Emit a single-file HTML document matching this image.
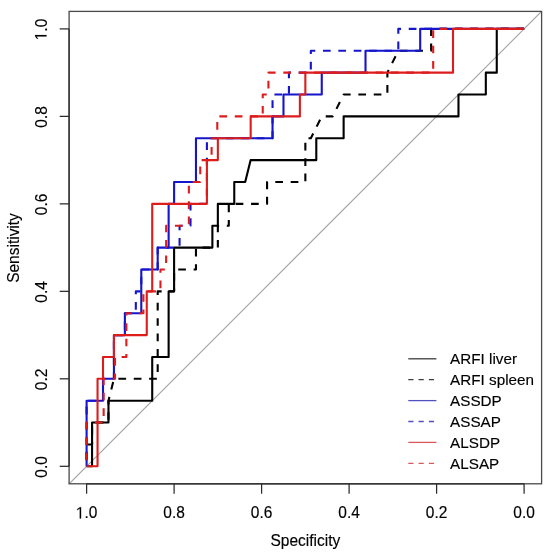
<!DOCTYPE html><html><head><meta charset="utf-8"><style>html,body{margin:0;padding:0;background:#fff;}svg{display:block;}text{font-family:"Liberation Sans",sans-serif;fill:#000;stroke:#000;stroke-width:0.15px;}</style></head><body>
<svg style="will-change:transform" width="550" height="558" viewBox="0 0 550 558">
<rect x="0" y="0" width="550" height="558" fill="#fff"/>
<line x1="69.10" y1="483.80" x2="541.60" y2="11.40" stroke="#a0a0a0" stroke-width="1.15"/>
<path d="M524.10,28.90 L496.76,28.90 L496.76,72.64 L485.82,72.64 L485.82,94.51 L458.48,94.51 L458.48,116.38 L343.63,116.38 L343.63,138.25 L316.29,138.25 L316.29,160.12 L250.66,160.12 L245.19,181.99 L234.26,181.99 L234.26,203.86 L217.85,203.86 L217.85,225.73 L212.38,225.73 L212.38,247.60 L174.10,247.60 L174.10,291.34 L168.63,291.34 L168.63,356.95 L152.22,356.95 L152.22,400.69 L108.47,400.69 L108.47,422.56 L92.07,422.56 L92.07,466.30 L86.60,466.30" fill="none" stroke="#000000" stroke-width="2.1" stroke-linejoin="round" stroke-linecap="butt"/>
<path d="M524.10,28.90 L431.13,28.90 L431.13,50.77 L398.32,50.77 L387.38,72.64 L387.38,94.51 L343.63,94.51 L332.69,116.38 L321.76,116.38 L310.82,138.25 L305.35,138.25 L305.35,181.99 L267.07,181.99 L267.07,203.86 L228.79,203.86 L228.79,225.73 L217.85,225.73 L217.85,247.60 L195.97,247.60 L195.97,269.47 L174.10,269.47 L174.10,291.34 L157.69,291.34 L157.69,378.82 L113.94,378.82 L108.47,400.69 L108.47,422.56 L92.07,422.56 L92.07,444.43 L86.60,444.43 L86.60,466.30" fill="none" stroke="#000000" stroke-width="2.1" stroke-linejoin="round" stroke-linecap="butt" stroke-dasharray="7.69 7.69"/>
<path d="M524.10,28.90 L420.19,28.90 L420.19,50.77 L365.51,50.77 L365.51,72.64 L321.76,72.64 L321.76,94.51 L283.48,94.51 L283.48,116.38 L272.54,116.38 L272.54,138.25 L195.97,138.25 L195.97,181.99 L174.10,181.99 L174.10,203.86 L168.63,203.86 L168.63,247.60 L157.69,247.60 L157.69,269.47 L141.29,269.47 L141.29,313.21 L124.88,313.21 L124.88,335.08 L113.94,335.08 L113.94,378.82 L103.01,378.82 L103.01,400.69 L86.60,400.69 L86.60,466.30" fill="none" stroke="#1515cc" stroke-width="2.1" stroke-linejoin="round" stroke-linecap="butt"/>
<path d="M524.10,28.90 L398.32,28.90 L398.32,50.77 L310.82,50.77 L310.82,72.64 L288.94,72.64 L288.94,94.51 L272.54,94.51 L272.54,138.25 L206.91,138.25 L206.91,203.86 L190.51,203.86 L190.51,225.73 L179.57,225.73 L179.57,247.60 L157.69,247.60 L157.69,269.47 L141.29,269.47 L141.29,291.34 L135.82,291.34 L135.82,313.21 L124.88,313.21 L124.88,335.08 L113.94,335.08 L113.94,378.82 L103.01,378.82 L103.01,400.69 L86.60,400.69 L86.60,466.30" fill="none" stroke="#1515cc" stroke-width="2.1" stroke-linejoin="round" stroke-linecap="butt" stroke-dasharray="7.69 7.69"/>
<path d="M524.10,28.90 L453.01,28.90 L453.01,72.64 L305.35,72.64 L305.35,94.51 L299.88,94.51 L299.88,116.38 L250.66,116.38 L250.66,138.25 L217.85,138.25 L217.85,160.12 L206.91,160.12 L206.91,203.86 L152.22,203.86 L152.22,291.34 L146.76,291.34 L146.76,335.08 L113.94,335.08 L113.94,356.95 L103.01,356.95 L103.01,378.82 L97.54,378.82 L97.54,466.30 L86.60,466.30" fill="none" stroke="#dd1c1c" stroke-width="2.1" stroke-linejoin="round" stroke-linecap="butt"/>
<path d="M524.10,28.90 L433.19,28.90 L433.19,72.64 L268.42,72.64 L268.42,94.51 L262.74,94.51 L262.74,116.38 L217.28,116.38 L217.28,138.25 L211.60,138.25 L211.60,160.12 L200.24,160.12 L200.24,181.99 L188.87,181.99 L188.87,225.73 L166.15,225.73 L166.15,269.47 L160.46,269.47 L160.46,291.34 L143.42,291.34 L143.42,313.21 L126.37,313.21 L126.37,356.95 L115.01,356.95 L115.01,378.82 L103.65,378.82 L103.65,422.56 L86.60,422.56 L86.60,466.30" fill="none" stroke="#dd1c1c" stroke-width="2.1" stroke-linejoin="round" stroke-linecap="butt" stroke-dasharray="7.69 7.69"/>
<rect x="69.10" y="11.40" width="472.50" height="472.39" fill="none" stroke="#4a4a4a" stroke-width="1.3"/>
<line x1="69.10" y1="466.30" x2="69.10" y2="28.90" stroke="#2a2a2a" stroke-width="1.25"/>
<line x1="86.60" y1="483.80" x2="524.10" y2="483.80" stroke="#2a2a2a" stroke-width="1.25"/>
<line x1="59.70" y1="466.30" x2="69.10" y2="466.30" stroke="#2a2a2a" stroke-width="1.25"/>
<line x1="86.60" y1="483.80" x2="86.60" y2="493.70" stroke="#2a2a2a" stroke-width="1.25"/>
<line x1="59.70" y1="378.82" x2="69.10" y2="378.82" stroke="#2a2a2a" stroke-width="1.25"/>
<line x1="174.10" y1="483.80" x2="174.10" y2="493.70" stroke="#2a2a2a" stroke-width="1.25"/>
<line x1="59.70" y1="291.34" x2="69.10" y2="291.34" stroke="#2a2a2a" stroke-width="1.25"/>
<line x1="261.60" y1="483.80" x2="261.60" y2="493.70" stroke="#2a2a2a" stroke-width="1.25"/>
<line x1="59.70" y1="203.86" x2="69.10" y2="203.86" stroke="#2a2a2a" stroke-width="1.25"/>
<line x1="349.10" y1="483.80" x2="349.10" y2="493.70" stroke="#2a2a2a" stroke-width="1.25"/>
<line x1="59.70" y1="116.38" x2="69.10" y2="116.38" stroke="#2a2a2a" stroke-width="1.25"/>
<line x1="436.60" y1="483.80" x2="436.60" y2="493.70" stroke="#2a2a2a" stroke-width="1.25"/>
<line x1="59.70" y1="28.90" x2="69.10" y2="28.90" stroke="#2a2a2a" stroke-width="1.25"/>
<line x1="524.10" y1="483.80" x2="524.10" y2="493.70" stroke="#2a2a2a" stroke-width="1.25"/>
<text x="0" y="0" font-size="15.5" text-anchor="middle" transform="translate(46.5,466.90) rotate(-90) scale(1,1.03)">0.0</text>
<path d="M515,0 L515,1290 L197,1062 L197,1232 L530,1466 L696,1466 L696,0 Z" fill="#000" stroke="#000" stroke-width="0.15" vector-effect="non-scaling-stroke" transform="translate(86.60,518.45) scale(1,1.02) translate(-10.774,0) scale(0.007568,-0.007568)"/>
<text x="-2.153" y="0" font-size="15.5" transform="translate(86.60,518.45) scale(1,1.02)">.0</text>
<text x="0" y="0" font-size="15.5" text-anchor="middle" transform="translate(46.5,379.42) rotate(-90) scale(1,1.03)">0.2</text>
<text x="0" y="0" font-size="15.5" text-anchor="middle" transform="translate(174.10,518.45) scale(1,1.02)">0.8</text>
<text x="0" y="0" font-size="15.5" text-anchor="middle" transform="translate(46.5,291.94) rotate(-90) scale(1,1.03)">0.4</text>
<text x="0" y="0" font-size="15.5" text-anchor="middle" transform="translate(261.60,518.45) scale(1,1.02)">0.6</text>
<text x="0" y="0" font-size="15.5" text-anchor="middle" transform="translate(46.5,204.46) rotate(-90) scale(1,1.03)">0.6</text>
<text x="0" y="0" font-size="15.5" text-anchor="middle" transform="translate(349.10,518.45) scale(1,1.02)">0.4</text>
<text x="0" y="0" font-size="15.5" text-anchor="middle" transform="translate(46.5,116.98) rotate(-90) scale(1,1.03)">0.8</text>
<text x="0" y="0" font-size="15.5" text-anchor="middle" transform="translate(436.60,518.45) scale(1,1.02)">0.2</text>
<path d="M515,0 L515,1290 L197,1062 L197,1232 L530,1466 L696,1466 L696,0 Z" fill="#000" stroke="#000" stroke-width="0.15" vector-effect="non-scaling-stroke" transform="translate(46.5,29.50) rotate(-90) scale(1,1.03) translate(-10.774,0) scale(0.007568,-0.007568)"/>
<text x="-2.153" y="0" font-size="15.5" transform="translate(46.5,29.50) rotate(-90) scale(1,1.03)">.0</text>
<text x="0" y="0" font-size="15.5" text-anchor="middle" transform="translate(524.10,518.45) scale(1,1.02)">0.0</text>
<text x="0" y="0" font-size="15.5" text-anchor="middle" transform="translate(305.35,545.5) scale(1,1.02)">Specificity</text>
<text x="0" y="0" font-size="15.5" text-anchor="middle" transform="translate(18.9,248.00) rotate(-90) scale(1,1.03)">Sensitivity</text>
<line x1="408.3" y1="358.80" x2="436.4" y2="358.80" stroke="#3c3c3c" stroke-width="1.3"/>
<text x="0" y="0" font-size="15.25" transform="translate(450.1,364.30) scale(1,1.02)">ARFI liver</text>
<line x1="408.3" y1="379.70" x2="436.4" y2="379.70" stroke="#3c3c3c" stroke-width="1.3" stroke-dasharray="5.15 5.15"/>
<text x="0" y="0" font-size="15.25" transform="translate(450.1,385.20) scale(1,1.02)">ARFI spleen</text>
<line x1="408.3" y1="400.60" x2="436.4" y2="400.60" stroke="#5050c4" stroke-width="1.3"/>
<text x="0" y="0" font-size="15.25" transform="translate(450.1,406.10) scale(1,1.02)">ASSDP</text>
<line x1="408.3" y1="421.50" x2="436.4" y2="421.50" stroke="#5050c4" stroke-width="1.3" stroke-dasharray="5.15 5.15"/>
<text x="0" y="0" font-size="15.25" transform="translate(450.1,427.00) scale(1,1.02)">ASSAP</text>
<line x1="408.3" y1="442.40" x2="436.4" y2="442.40" stroke="#d8585e" stroke-width="1.3"/>
<text x="0" y="0" font-size="15.25" transform="translate(450.1,447.90) scale(1,1.02)">ALSDP</text>
<line x1="408.3" y1="463.30" x2="436.4" y2="463.30" stroke="#d8585e" stroke-width="1.3" stroke-dasharray="5.15 5.15"/>
<text x="0" y="0" font-size="15.25" transform="translate(450.1,468.80) scale(1,1.02)">ALSAP</text>
</svg></body></html>
